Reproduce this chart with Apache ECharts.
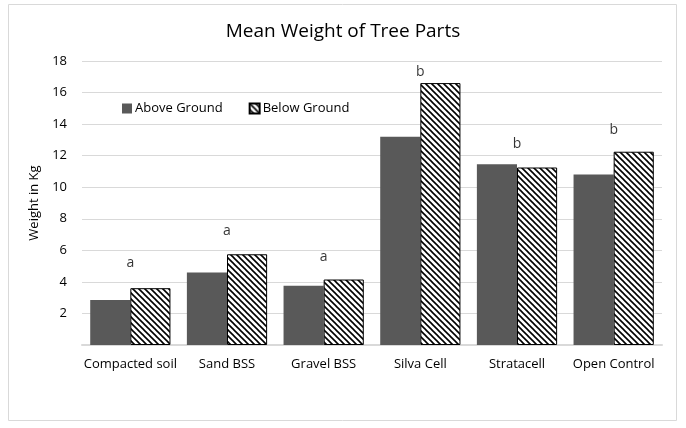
<!DOCTYPE html>
<html>
<head>
<meta charset="utf-8">
<script src="https://cdn.jsdelivr.net/npm/echarts@6/dist/echarts.min.js"></script>
<style>html,body{margin:0;padding:0;background:#fff;}#c{width:686px;height:428px;}</style>
</head>
<body>
<div id="c"></div>
<script>
var categories = ['Compacted soil', 'Sand BSS', 'Gravel BSS', 'Silva Cell', 'Stratacell', 'Open Control'];
var aboveGround = [2.85, 4.6, 3.75, 13.2, 11.45, 10.8];
var belowGround = [3.6, 5.75, 4.15, 16.6, 11.25, 12.25];
var groupLetters = ['a', 'a', 'a', 'b', 'b', 'b'];
var letterHeights = [5.2, 7.25, 5.6, 17.3, 12.75, 13.65];
var yTicks = [0, 2, 4, 6, 8, 10, 12, 14, 16, 18];

function hatch() {
  var s = 6, cv = document.createElement('canvas');
  cv.width = s; cv.height = s;
  var ctx = cv.getContext('2d');
  ctx.fillStyle = '#fff'; ctx.fillRect(0, 0, s, s);
  ctx.strokeStyle = '#000'; ctx.lineWidth = 1.6;
  for (var k = -1; k <= 1; k++) {
    ctx.beginPath();
    ctx.moveTo(-1, k * s - 1);
    ctx.lineTo(s + 1, s + k * s + 1);
    ctx.stroke();
  }
  return cv;
}

var font = 'Open Sans';
var chart = echarts.init(document.getElementById('c'));
chart.setOption({
  animation: false,
  textStyle: { fontFamily: font, color: '#000' },
  graphic: [{
    type: 'rect', shape: { x: 8.5, y: 4.5, width: 668, height: 416 },
    style: { fill: 'none', stroke: '#d9d9d9', lineWidth: 1 }, silent: true
  }],
  title: {
    text: 'Mean Weight of Tree Parts', left: 'center', top: 17,
    textStyle: { fontFamily: font, fontSize: 19, fontWeight: 'normal', color: '#000' }
  },
  legend: {
    data: ['Above Ground', 'Below Ground'], left: 117, top: 97,
    itemWidth: 10, itemHeight: 10, itemGap: 26, icon: 'rect',
    textStyle: { fontFamily: font, fontSize: 13, color: '#000', padding: [0, 0, 0, -2] }
  },
  grid: { left: 82, right: 24, top: 61, bottom: 83 },
  xAxis: {
    type: 'category', data: categories,
    axisLine: { lineStyle: { color: '#d9d9d9', width: 2 } },
    axisTick: { show: false },
    axisLabel: { interval: 0, fontFamily: font, fontSize: 13, color: '#000', margin: 13 }
  },
  yAxis: {
    type: 'value', min: yTicks[0], max: yTicks[yTicks.length - 1], interval: 2,
    name: 'Weight in Kg', nameLocation: 'middle', nameGap: 38,
    nameTextStyle: { fontFamily: font, fontSize: 13, color: '#000' },
    axisLine: { show: false }, axisTick: { show: false },
    axisLabel: { fontFamily: font, fontSize: 13, color: '#000', margin: 15,
      formatter: function (v) { return v === 0 ? '' : String(v); } },
    splitLine: { lineStyle: { color: '#d9d9d9', width: 1 } }
  },
  series: [{
    name: 'Above Ground', type: 'bar', data: aboveGround,
    barGap: '0%', barCategoryGap: '17%',
    itemStyle: { color: '#595959' }
  }, {
    name: 'Below Ground', type: 'bar', data: belowGround,
    itemStyle: { color: { image: hatch(), repeat: 'repeat' }, borderColor: '#000', borderWidth: 1 }
  }, {
    type: 'scatter', data: letterHeights, symbolSize: 1,
    itemStyle: { color: 'rgba(0,0,0,0)' }, silent: true,
    label: { show: true, position: 'inside', fontFamily: font, fontSize: 14, color: '#000',
      formatter: function (p) { return groupLetters[p.dataIndex]; } }
  }]
});
</script>
</body>
</html>
